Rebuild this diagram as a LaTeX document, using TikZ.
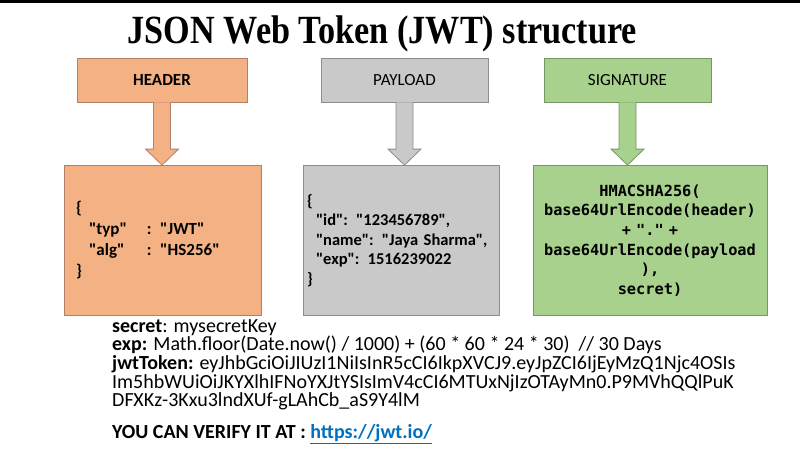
\documentclass[tikz,border=0pt]{standalone}
\usepackage{fontspec}
\setmainfont{Carlito}[Ligatures=TeXOff]
\setmonofont{DejaVu Sans Mono}
\newfontfamily\titlefont{Liberation Serif}
\usetikzlibrary{positioning,calc}
\definecolor{corg}{RGB}{244,177,131}
\definecolor{corgl}{RGB}{178,128,104}
\definecolor{cgry}{RGB}{201,201,201}
\definecolor{cgryl}{RGB}{138,140,150}
\definecolor{cgrn}{RGB}{169,209,142}
\definecolor{cgrnl}{RGB}{118,152,100}
\definecolor{clink}{RGB}{0,112,192}
\tikzset{
    part/.style={draw=#1l, fill=#1, line width=.8pt, minimum height=44pt,
        inner sep=0pt, font=\fontsize{17}{17}\selectfont},
    body/.style={draw=#1l, fill=#1, line width=.8pt, minimum height=150pt,
        inner ysep=0pt},
    infoln/.style={anchor=base west, inner sep=0pt, font=\fontsize{20}{20}\selectfont}
}
\newcommand*{\blockarrow}[3]{%
    \draw[draw=#3l, fill=#3, line width=.8pt] let \p1=(#1.south), \p2=(#2.north) in
        (\x1-8.5pt, \y1)--(\x1-8.5pt, \y2+16pt)--(\x1-16.5pt, \y2+16pt)--(\x1, \y2)
        --(\x1+16.5pt, \y2+16pt)--(\x1+8.5pt, \y2+16pt)--(\x1+8.5pt, \y1);}

\begin{document}
\begin{tikzpicture}[x=1pt, y=-1pt]
    \useasboundingbox(0, 0) rectangle (800, 455);
    \fill(0, 0) rectangle (800, 2.5);
    \node[anchor=base, inner sep=0pt](title) at (382.5, 43)
        {\titlefont\bfseries\fontsize{40}{40}\selectfont\scalebox{0.855}[1]{JSON Web Token (JWT) structure}};
    % the three parts
    \node[part=corg, minimum width=170pt](header) at (162, 80){\bfseries HEADER};
    \node[part=cgry, minimum width=167pt](payload) at (404.5, 80){PAYLOAD};
    \node[part=cgrn, minimum width=167pt](signature) at (627.5, 80){SIGNATURE};
    \node[body=corg, text width=173pt, inner xsep=12pt, align=left,
        font=\fontsize{17}{21}\selectfont\bfseries](headerbody) at (162.5, 240.5)
        {\{\\
        \hspace*{13pt}\makebox[58pt][l]{"typ"}: "JWT"\\
        \hspace*{13pt}\makebox[58pt][l]{"alg"}: "HS256"\\
        \}};
    \node[body=cgry, text width=188pt, inner xsep=4pt, align=left,
        font=\fontsize{16.5}{19.5}\selectfont\bfseries](payloadbody) at (401, 240.5)
        {\{\\
        \hspace*{9pt}"id": "123456789",\\
        \hspace*{9pt}"name": "Jaya Sharma",\\
        \hspace*{9pt}"exp": 1516239022\\
        \}};
    \node[body=cgrn, text width=226pt, inner xsep=4pt, align=center,
        font=\ttfamily\bfseries\fontsize{15.3}{19.6}\selectfont](signaturebody) at (650, 240.5)
        {HMACSHA256(\\
        base64UrlEncode(header)\\
        + "." +\\
        base64UrlEncode(payload\\
        ),\\
        secret)};
    \blockarrow{header}{headerbody}{corg}
    \blockarrow{payload}{payloadbody}{cgry}
    \blockarrow{signature}{signaturebody}{cgrn}
    % token details
    \node[infoln](secretln) at (112, 332.5){\textbf{secret}: mysecretKey};
    \node[infoln](expln) at (112, 350.5)
        {\textbf{exp:} Math.floor(Date.now() / 1000) + (60 * 60 * 24 * 30) \ // 30 Days};
    \node[infoln](tokenln) at (112, 369.5)
        {\textbf{jwtToken:} eyJhbGciOiJIUzI1NiIsInR5cCI6IkpXVCJ9.eyJpZCI6IjEyMzQ1Njc4OSIs};
    \node[infoln](tokenlnb) at (112, 388.5)
        {Im5hbWUiOiJKYXlhIFNoYXJtYSIsImV4cCI6MTUxNjIzOTAyMn0.P9MVhQQlPuK};
    \node[infoln](tokenlnc) at (112, 406.5){DFXKz-3Kxu3lndXUf-gLAhCb\_aS9Y4lM};
    \node[infoln](verify) at (112, 438.5)
        {\textbf{YOU CAN VERIFY IT AT : \textcolor{clink}{\underline{https://jwt.io/}}}};
\end{tikzpicture}
\end{document}
